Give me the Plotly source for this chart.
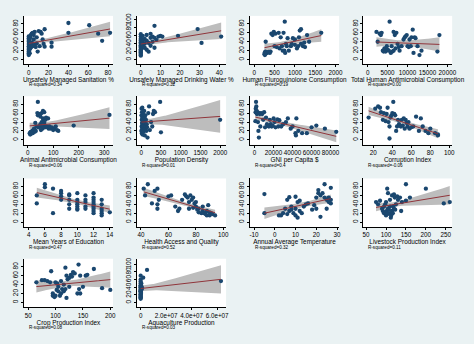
import numpy as np
import plotly.graph_objects as go

# ---------------- data ----------------
titles = ["Unsafely Managed Sanitation %", "Unsafely Managed Drinking Water %",
          "Human Fluroquinolone Consumption", "Total Human Antimicrobial Consumption",
          "Animal Antimicrobial Consumption", "Population Density",
          "GNI per Capita $", "Corruption Index",
          "Mean Years of Education", "Health Access and Quality",
          "Annual Average Temperature", "Livestock Production Index",
          "Crop Production Index", "Aquaculture Production"]
r2_labels = ["R-squared=0.34", "R-squared=0.32", "R-squared=0.19", "R-squared=0.00",
             "R-squared=0.06", "R-squared=0.01", "R-squared=0.4", "R-squared=-0.06",
             "R-squared=0.47", "R-squared=0.52", "R-squared=0.32", "R-squared=0.11",
             "R-squared=0.08", "R-squared=0.03"]

x1 = [0, 0, 0, 0, 0, 0, 0, 0, 0, 0, 0, 0, 0.5, 0.5, 1, 1, 1, 1.5, 1.5, 2,
      2, 2.5, 3, 3, 4, 4, 5, 5, 6, 6, 7, 8, 8, 9, 10, 11, 12, 13, 14, 15,
      16, 16, 23, 23, 40, 40, 61, 70, 74, 82]
y1 = [10, 13, 15, 18, 22, 26, 30, 35, 40, 44, 48, 52, 20, 42, 14, 30, 46, 25, 50, 33,
      55, 28, 38, 58, 30, 60, 45, 55, 33, 62, 28, 36, 50, 18, 64, 30, 62, 58, 45, 35,
      68, 29, 38, 29, 82, 60, 77, 58, 42, 60]

x2 = [0, 0, 0, 0, 0, 0, 0, 0, 0, 0, 0, 0, 0, 0, 0, 0, 0.5, 0.5, 1, 1,
      1, 2, 2, 2, 3, 3, 3, 4, 4, 5, 5, 5, 6, 6, 7, 7, 7, 8, 9, 10,
      11, 19, 29, 31, 41]
y2 = [10, 12, 15, 18, 20, 23, 26, 30, 33, 36, 40, 44, 48, 52, 58, 64, 28, 50, 35, 45,
      60, 30, 40, 52, 25, 48, 62, 20, 42, 55, 65, 35, 58, 45, 85, 55, 30, 50, 58, 60,
      58, 60, 77, 42, 58]

x3 = [250, 255, 260, 270, 280, 300, 320, 350, 380, 400, 420, 450, 480, 500, 520, 550,
      600, 620, 650, 680, 700, 720, 740, 750, 760, 780, 800, 820, 850, 900, 920, 950,
      1000, 1000, 1050, 1080, 1100, 1120, 1150, 1150, 1200, 1230, 1250, 1300, 1350, 1650]
y3 = [12, 15, 10, 18, 40, 14, 16, 17, 15, 18, 58, 55, 62, 30, 58, 28,
      60, 25, 50, 30, 20, 60, 20, 85, 15, 35, 30, 48, 20, 30, 35, 48,
      33, 45, 25, 30, 50, 65, 68, 35, 30, 38, 28, 55, 40, 60]

x4 = [2200, 2500, 3000, 3300, 3500, 3800, 4000, 4200, 4500, 4800, 5000, 5300, 5500,
      5800, 6000, 6200, 6500, 6500, 6800, 7000, 7200, 7500, 7800, 8000, 8500, 9000,
      9300, 9500, 9800, 10000, 10300, 10500, 10800, 11000, 11300, 11500, 11800, 12000,
      12500, 13000, 13500, 17500, 18000]
y4 = [62, 40, 58, 55, 60, 20, 18, 25, 18, 30, 22, 20, 85,
      15, 30, 18, 62, 20, 55, 25, 60, 35, 28, 20, 30, 45,
      50, 52, 55, 30, 28, 45, 30, 50, 67, 15, 50, 48,
      30, 10, 20, 18, 55]

x5 = [8, 10, 12, 15, 18, 20, 22, 25, 28, 30, 32, 35, 38, 40, 40, 42, 45, 48, 50, 50,
      52, 55, 55, 58, 60, 60, 62, 62, 65, 65, 68, 70, 72, 75, 78, 80, 82, 85, 88, 90,
      95, 100, 105, 110, 115, 120, 180, 320]
y5 = [15, 12, 18, 14, 20, 15, 22, 25, 18, 38, 20, 30, 60, 85, 55, 28, 58, 30, 52, 35,
      22, 60, 40, 25, 65, 48, 30, 45, 62, 38, 28, 45, 50, 30, 28, 48, 25, 30, 28, 25,
      28, 22, 25, 30, 22, 20, 32, 56]

x6 = [5, 8, 10, 12, 15, 18, 20, 22, 25, 28, 30, 32, 35, 40, 45, 50, 55, 60, 65, 70,
      75, 80, 85, 90, 95, 100, 105, 110, 120, 130, 140, 150, 160, 180, 200, 220, 250,
      280, 300, 320, 350, 480, 500, 2000]
y6 = [20, 55, 70, 30, 45, 15, 62, 38, 25, 72, 50, 12, 35, 48, 60, 28, 18, 42, 55, 32,
      65, 22, 38, 10, 48, 25, 55, 30, 45, 20, 35, 28, 5, 60, 75, 22, 40,
      30, 58, 65, 62, 85, 17, 45]

x7 = [800, 1000, 1200, 1500, 1800, 2000, 2200, 2500, 3000, 3500, 4000, 4500, 5000,
      5500, 6000, 7000, 8000, 9000, 10000, 11000, 12000, 13000, 14000, 15000, 16000,
      17000, 18000, 19000, 20000, 21000, 22000, 24000, 25000, 26000, 28000, 30000,
      33000, 35000, 38000, 40000, 43000, 43500, 44000, 46000, 50000, 55000, 60000,
      65000, 74000, 86000]
y7 = [42, 62, 70, 85, 75, 60, 65, 58, 62, 40, 20, 5, 60,
      58, 30, 60, 58, 45, 62, 28, 50, 35, 32, 30, 45,
      35, 30, 32, 48, 40, 28, 46, 30, 44, 30, 35,
      40, 48, 25, 30, 15, 10, 48, 20, 15, 15, 28,
      32, 25, 18]

x8 = [15, 22, 25, 27, 28, 30, 31, 33, 34, 35, 36, 37, 37, 38, 39, 40, 41, 42, 43, 44,
      45, 46, 47, 48, 49, 50, 51, 52, 53, 54, 55, 56, 57, 58, 60, 62, 65, 68, 70, 72,
      75, 78, 80, 85, 88, 88]
y8 = [50, 70, 75, 72, 62, 45, 60, 42, 58, 72, 40, 30, 3, 50, 55, 60, 85, 58, 55, 20,
      30, 45, 35, 32, 30, 45, 32, 48, 25, 45, 38, 30, 40, 25, 28, 30, 52, 20, 48, 30,
      20, 15, 25, 15, 10, 12]

x9 = [5, 5, 6, 6, 7, 7, 8, 8, 8, 8, 9, 9, 9, 9, 9, 10, 10, 10, 10, 10,
      10, 10, 11, 11, 11, 11, 11, 12, 12, 12, 12, 12, 12, 12, 12, 12, 13, 13, 13, 13,
      13, 13, 14]
y9 = [60, 42, 85, 78, 75, 20, 70, 65, 58, 50, 62, 60, 50, 40, 30, 65, 50, 45, 40, 35,
      30, 28, 60, 50, 45, 35, 30, 65, 55, 50, 45, 40, 35, 30, 25, 20, 50, 40, 30, 25,
      20, 15, 22]

x10 = [42, 43, 45, 48, 50, 52, 52, 52, 53, 60, 62, 65, 67, 68, 70, 72, 73, 74, 75, 75,
       76, 77, 78, 78, 79, 80, 80, 81, 82, 82, 84, 85, 85, 86, 87, 88, 88, 89, 90, 90,
       91, 92, 94]
y10 = [75, 60, 85, 42, 70, 75, 40, 30, 50, 58, 60, 35, 25, 30, 50, 62, 58, 55, 45, 30,
       60, 50, 55, 32, 42, 45, 35, 28, 22, 30, 20, 35, 25, 20, 18, 25, 15, 38, 22, 15,
       20, 18, 15]

x11 = [-5, -5, 2, 3, 4, 5, 6, 6, 7, 7, 8, 8, 9, 10, 10, 10, 11, 11, 12, 12,
       13, 14, 15, 16, 18, 19, 20, 20, 21, 21, 22, 22, 23, 24, 24, 25, 25, 26, 26, 27,
       27, 27]
y11 = [63, 20, 15, 15, 20, 30, 18, 50, 56, 25, 28, 35, 20, 57, 30, 15, 10, 45, 25, 48,
       20, 35, 40, 42, 28, 38, 30, 55, 72, 65, 60, 12, 65, 85, 55, 30, 50, 45, 55, 77,
       42, 50]

x12 = [75, 80, 85, 90, 92, 95, 95, 98, 100, 100, 102, 103, 105, 105, 108, 110, 110,
       112, 115, 115, 118, 120, 120, 122, 125, 128, 130, 135, 138, 140, 150, 150, 160,
       200, 245, 260, 97, 104, 107, 113, 117, 123]
y12 = [45, 40, 48, 30, 25, 20, 35, 40, 45, 15, 25, 75, 65, 30, 20, 35, 50,
       10, 60, 25, 35, 62, 30, 55, 40, 58, 50, 55, 25, 45, 85, 48, 55,
       75, 42, 45, 22, 18, 28, 15, 20, 28]

x13 = [65, 75, 80, 85, 90, 92, 95, 95, 98, 100, 100, 102, 103, 105, 105, 108, 110, 110,
       112, 115, 115, 118, 118, 120, 120, 122, 125, 125, 128, 130, 132, 135, 140, 142,
       143, 145, 145, 150, 155, 158, 170, 185, 200]
y13 = [45, 50, 50, 48, 45, 70, 20, 15, 12, 15, 45, 28, 42, 35, 25, 15, 48, 20,
       30, 25, 40, 78, 30, 10, 60, 52, 55, 35, 62, 58, 68, 65, 20, 85,
       30, 60, 20, 35, 60, 62, 75, 32, 28]

x14 = [0, 0, 0, 0, 0, 0, 0, 0, 0, 0, 0, 0, 0, 0, 0, 0, 0, 0, 0, 0,
       100000, 200000, 300000, 500000, 800000, 1000000, 2000000, 5000000, 63000000]
y14 = [10, 12, 14, 16, 18, 20, 22, 25, 28, 30, 32, 35, 38, 40, 42, 45, 50, 55, 60, 70,
       30, 45, 25, 50, 35, 40, 65, 85, 56]

xs_all = [x1, x2, x3, x4, x5, x6, x7, x8, x9, x10, x11, x12, x13, x14]
ys_all = [y1, y2, y3, y4, y5, y6, y7, y8, y9, y10, y11, y12, y13, y14]

x_ticks = [[0, 20, 40, 60, 80], [0, 10, 20, 30, 40], [0, 500, 1000, 1500, 2000],
           [0, 5000, 10000, 15000, 20000], [0, 100, 200, 300], [0, 500, 1000, 1500, 2000],
           [0, 20000, 40000, 60000, 80000], [20, 40, 60, 80, 100], [4, 6, 8, 10, 12, 14],
           [40, 60, 80, 100], [-10, 0, 10, 20, 30], [50, 100, 150, 200, 250],
           [50, 100, 150, 200], [0, 20000000, 40000000, 60000000]]
x_tick_text_14 = ["0", "2.0e+07", "4.0e+07", "6.0e+07"]
y_ticks_std = [0, 20, 40, 60, 80]
y_ticks_100 = [0, 20, 40, 60, 80, 100]

# ---------------- layout parameters ----------------
x_ranges = [[-5, 85], [-2, 43.5], [-110, 2090], [-1200, 21200], [-15, 334], [-110, 2150],
            [-5000, 89000], [9, 103], [3.4, 14.4], [37, 102], [-12, 31], [42, 266],
            [42, 205], [-3000000, 67000000]]
y_ranges = [[-11, 98]] * 14
y_ranges[1] = [-12, 110]
y_ranges[13] = [-12, 114]

W, H = 474, 344
row_tops = [13, 94, 177, 258]
PW, PH = 90, 49

NAVY = "#1a476f"
MAROON = "#90353b"
BAND = "#bdbdbd"
FONT = "Liberation Sans, Arial, sans-serif"
T_CRIT = 2.01

fig = go.Figure()
layout = {}
annotations = []

for i in range(14):
    k = i + 1
    r, c = divmod(i, 4)
    left = 24 + 114 * c
    top = row_tops[r]
    xa = "x" if k == 1 else f"x{k}"
    ya = "y" if k == 1 else f"y{k}"

    x = np.asarray(xs_all[i], float)
    y = np.asarray(ys_all[i], float)
    n = len(x)
    b, a = np.polyfit(x, y, 1)
    resid = y - (a + b * x)
    s = np.sqrt((resid ** 2).sum() / (n - 2))
    gx = np.linspace(x.min(), x.max(), 100)
    fit = a + b * gx
    se = s * np.sqrt(1.0 / n + (gx - x.mean()) ** 2 / ((x - x.mean()) ** 2).sum())
    lo, hi = fit - T_CRIT * se, fit + T_CRIT * se

    fig.add_trace(go.Scatter(x=np.concatenate([gx, gx[::-1]]), y=np.concatenate([hi, lo[::-1]]),
                             fill="toself", fillcolor=BAND, line=dict(width=0), mode="lines",
                             hoverinfo="skip", showlegend=False, xaxis=xa, yaxis=ya))
    fig.add_trace(go.Scatter(x=x, y=y, mode="markers",
                             marker=dict(color=NAVY, size=4.3, line=dict(width=0)),
                             showlegend=False, xaxis=xa, yaxis=ya))
    fig.add_trace(go.Scatter(x=gx, y=fit, mode="lines", line=dict(color=MAROON, width=1),
                             showlegend=False, xaxis=xa, yaxis=ya))

    xt = x_ticks[i]
    xtt = x_tick_text_14 if i == 13 else [str(v) for v in xt]
    yt = y_ticks_100 if i in (1, 13) else y_ticks_std

    layout["xaxis" if k == 1 else f"xaxis{k}"] = dict(
        domain=[left / W, (left + PW) / W], anchor=ya, range=x_ranges[i],
        tickvals=xt, ticktext=xtt, tickangle=0,
        tickfont=dict(size=6.3, family=FONT, color="#000"),
        ticks="outside", ticklen=2, tickwidth=0.6, tickcolor="#000",
        showline=True, linecolor="#000", linewidth=0.6, showgrid=False, zeroline=False,
        title=dict(text=titles[i], font=dict(size=6.4, family=FONT, color="#000"), standoff=0))
    layout["yaxis" if k == 1 else f"yaxis{k}"] = dict(
        domain=[1 - (top + PH) / H, 1 - top / H], anchor=xa, range=y_ranges[i],
        tickvals=yt, tickangle=-90, tickfont=dict(size=6.5, family=FONT, color="#000"),
        ticks="outside", ticklen=2, tickwidth=0.6, tickcolor="#000",
        showline=True, linecolor="#000", linewidth=0.6, showgrid=False, zeroline=False)

    annotations.append(dict(text=r2_labels[i], xref="paper", yref="paper",
                            x=(left + 3) / W, y=1 - (top + PH + 20.5) / H,
                            xanchor="left", yanchor="middle", showarrow=False,
                            font=dict(size=4.6, family=FONT, color="#000")))

fig.update_layout(width=W, height=H, margin=dict(l=0, r=0, t=0, b=0),
                  paper_bgcolor="#EAF2F3", plot_bgcolor="white",
                  annotations=annotations, **layout)
fig.write_html("out.html")
